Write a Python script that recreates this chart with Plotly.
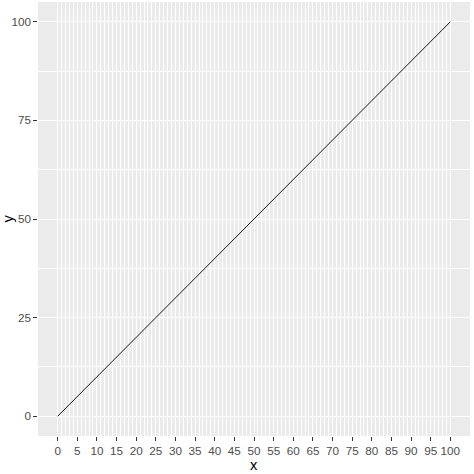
import plotly.graph_objects as go

x_vals = [i for i in range(0, 101)]
y_vals = [0, 1, 2, 3, 4, 5, 6, 7, 8, 9, 10, 11, 12, 13, 14, 15, 16, 17, 18, 19,
          20, 21, 22, 23, 24, 25, 26, 27, 28, 29, 30, 31, 32, 33, 34, 35, 36, 37, 38, 39,
          40, 41, 42, 43, 44, 45, 46, 47, 48, 49, 50, 51, 52, 53, 54, 55, 56, 57, 58, 59,
          60, 61, 62, 63, 64, 65, 66, 67, 68, 69, 70, 71, 72, 73, 74, 75, 76, 77, 78, 79,
          80, 81, 82, 83, 84, 85, 86, 87, 88, 89, 90, 91, 92, 93, 94, 95, 96, 97, 98, 99, 100]
x_ticks = list(range(0, 101, 5))
x_minor = [v for v in range(0, 101) if v % 5 != 0]
y_ticks = [0, 25, 50, 75, 100]
y_minor = [12.5, 37.5, 62.5, 87.5]

W, H = 474, 474
ML, MR, MT, MB = 38.4, 4.4, 2.3, 38.3
PW, PH = W - ML - MR, H - MT - MB

fig = go.Figure()
fig.add_trace(go.Scatter(x=x_vals, y=y_vals, mode="lines",
                         line=dict(color="black", width=0.9), showlegend=False))

axis_common = dict(
    showgrid=True, gridcolor="white", gridwidth=1.07, zeroline=False,
    ticks="outside", ticklen=3.7, tickwidth=1.07, tickcolor="#333333",
    tickfont=dict(family="Liberation Sans, Arial", size=11.7, color="#4D4D4D"),
    showline=False, automargin=False,
)

fig.update_layout(
    width=W, height=H,
    margin=dict(l=ML, r=MR, t=MT, b=MB, autoexpand=False),
    paper_bgcolor="white", plot_bgcolor="#EBEBEB",
    xaxis=dict(range=[-5, 105], tickmode="array", tickvals=x_ticks,
               ticktext=[str(v) for v in x_ticks],
               minor=dict(tickmode="array", tickvals=x_minor, showgrid=True,
                          gridcolor="white", gridwidth=0.53, ticks=""),
               **axis_common),
    yaxis=dict(range=[-5, 105], tickmode="array", tickvals=y_ticks,
               ticktext=[str(v) for v in y_ticks],
               minor=dict(tickmode="array", tickvals=y_minor, showgrid=True,
                          gridcolor="white", gridwidth=0.53, ticks=""),
               **axis_common),
)

fig.add_annotation(text="x", xref="paper", yref="paper", x=0.5,
                   y=-(465 - (H - MB)) / PH, yanchor="middle", showarrow=False,
                   font=dict(family="Liberation Sans, Arial", size=14.7, color="black"))
fig.add_annotation(text="y", xref="paper", yref="paper", textangle=-90,
                   x=-(ML - 8) / PW, xanchor="center", y=0.5, showarrow=False,
                   font=dict(family="Liberation Sans, Arial", size=14.7, color="black"))

fig.write_html("out.html", config={"displayModeBar": False},
               post_script="document.body.style.margin='0';document.body.style.overflow='hidden';")
